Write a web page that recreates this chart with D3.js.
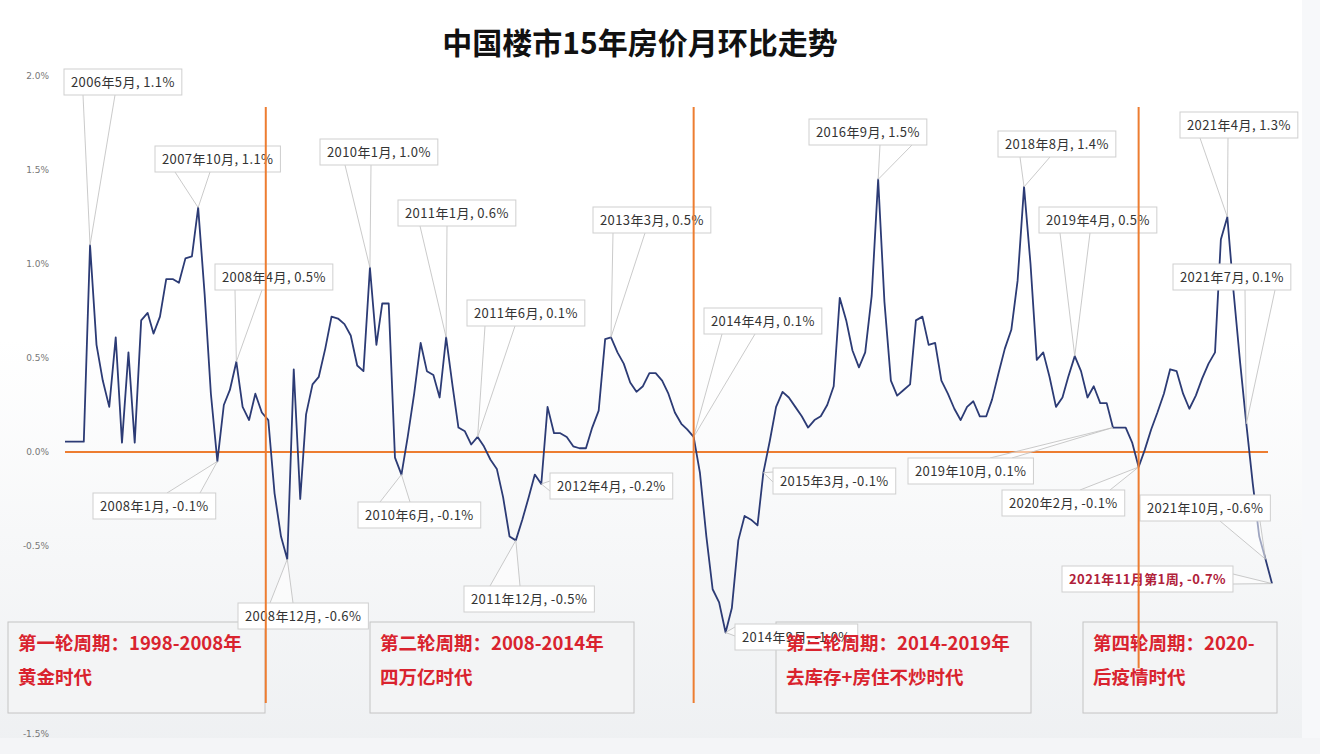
<!DOCTYPE html>
<html>
<head>
<meta charset="utf-8">
<script src="https://cdn.jsdelivr.net/npm/d3@7/dist/d3.min.js"></script>
<style>
  body { margin: 0; background: #ffffff; }
  svg { display: block; font-family: "Noto Sans CJK SC", "Noto Sans", sans-serif; }
</style>
</head>
<body>
<div id="chart"></div>
<script>
// ---------------------------------------------------------------------------
// DATA (month-on-month change, %)
// ---------------------------------------------------------------------------
const startMonth = "2006-01";
const momValues = [
  0.055, 0.055, 0.055, 0.055, 1.10, 0.57, 0.38, 0.24, 0.61, 0.05, 0.53, 0.05,   // 2006
  0.70, 0.74, 0.63, 0.72, 0.92, 0.92, 0.90, 1.03, 1.04, 1.30, 0.84, 0.31,       // 2007
  -0.05, 0.25, 0.33, 0.48, 0.24, 0.17, 0.31, 0.21, 0.17, -0.22, -0.45, -0.57,   // 2008
  0.44, -0.25, 0.20, 0.36, 0.40, 0.55, 0.72, 0.71, 0.68, 0.62, 0.46, 0.43,      // 2009
  0.98, 0.57, 0.79, 0.79, -0.03, -0.12, 0.08, 0.31, 0.58, 0.43, 0.41, 0.29,     // 2010
  0.61, 0.35, 0.13, 0.11, 0.04, 0.08, 0.03, -0.04, -0.09, -0.24, -0.45, -0.47,  // 2011
  -0.36, -0.24, -0.12, -0.17, 0.24, 0.10, 0.10, 0.08, 0.03, 0.02, 0.02, 0.13,   // 2012
  0.22, 0.60, 0.61, 0.53, 0.47, 0.37, 0.32, 0.35, 0.42, 0.42, 0.38, 0.31,       // 2013
  0.21, 0.15, 0.12, 0.08, -0.11, -0.45, -0.73, -0.80, -0.96, -0.83, -0.47, -0.34, // 2014
  -0.36, -0.39, -0.11, 0.06, 0.24, 0.32, 0.29, 0.24, 0.19, 0.13, 0.17, 0.19,    // 2015
  0.25, 0.35, 0.82, 0.70, 0.54, 0.45, 0.53, 0.83, 1.45, 0.80, 0.38, 0.30,       // 2016
  0.33, 0.36, 0.70, 0.72, 0.57, 0.58, 0.38, 0.31, 0.23, 0.17, 0.24, 0.27,       // 2017
  0.19, 0.19, 0.28, 0.42, 0.55, 0.65, 0.91, 1.41, 1.00, 0.49, 0.53, 0.40,       // 2018
  0.24, 0.29, 0.40, 0.51, 0.43, 0.29, 0.35, 0.26, 0.26, 0.13, 0.13, 0.13,       // 2019
  0.05, -0.08, 0.01, 0.12, 0.21, 0.31, 0.44, 0.43, 0.31, 0.23, 0.30, 0.39,      // 2020
  0.47, 0.53, 1.13, 1.25, 0.85, 0.48, 0.15, -0.17, -0.45, -0.57, -0.70          // 2021
];

// the -1.0% label sits under the first cycle box in the picture
const yTicks = [2.0, 1.5, 1.0, 0.5, 0.0, -0.5, -1.5];

// cycle boundaries (dates where the orange dividers stand)
const cycleBreaks = ["2008-08-20", "2014-04-01", "2020-02-01"];
const cycleTitles = ["第一轮周期：1998-2008年", "第二轮周期：2008-2014年", "第三轮周期：2014-2019年", "第四轮周期：2020-"];
const cycleEras = ["黄金时代", "四万亿时代", "去库存+房住不炒时代", "后疫情时代"];

// annotated months and their labels
const calloutMonths = ["2006-05", "2007-10", "2008-04", "2008-01", "2008-12", "2010-01", "2010-06", "2011-01",
  "2011-06", "2011-12", "2012-04", "2013-03", "2014-04", "2014-09", "2015-03", "2016-09",
  "2018-08", "2019-04", "2019-10", "2020-02", "2021-04", "2021-07", "2021-10", "2021-11"];
const calloutTexts = ["2006年5月, 1.1%", "2007年10月, 1.1%", "2008年4月, 0.5%", "2008年1月, -0.1%",
  "2008年12月, -0.6%", "2010年1月, 1.0%", "2010年6月, -0.1%", "2011年1月, 0.6%",
  "2011年6月, 0.1%", "2011年12月, -0.5%", "2012年4月, -0.2%", "2013年3月, 0.5%",
  "2014年4月, 0.1%", "2014年9月, -1.0%", "2015年3月, -0.1%", "2016年9月, 1.5%",
  "2018年8月, 1.4%", "2019年4月, 0.5%", "2019年10月, 0.1%", "2020年2月, -0.1%",
  "2021年4月, 1.3%", "2021年7月, 0.1%", "2021年10月, -0.6%", "2021年11月第1周, -0.7%"];

// ---------------------------------------------------------------------------
// LAYOUT (label placement only)
// ---------------------------------------------------------------------------
const W = 1320, H = 754;
// [box left, box top, wedge side, wedge offset a, wedge offset b]
const calloutLayout = [
  [64, 69, "bottom", 19, 51], [155, 146, "bottom", 20, 55], [215, 264, "bottom", 20, 47],
  [93, 493, "top", 74, 107], [238, 603, "top", 32, 55], [320, 139, "bottom", 25, 51],
  [358, 502, "top", 22, 52], [398, 200, "bottom", 22, 49], [467, 300, "bottom", 18, 48],
  [464, 586, "top", 26, 56], [550, 473, "left", 8, 18], [593, 207, "bottom", 20, 52],
  [704, 308, "bottom", 18, 51], [735, 624, "left", 3, 12], [773, 468, "left", 4, 14],
  [809, 119, "bottom", 71, 103], [998, 131, "bottom", 22, 52], [1039, 207, "bottom", 21, 51],
  [908, 458, "top", 82, 104], [1002, 490, "top", 78, 108], [1180, 112, "bottom", 20, 48],
  [1173, 264, "bottom", 72, 102], [1140, 495, "bottom", 80, 120], [1062, 566, "right", 8, 18]
];
const cycleBoxes = [[8, 265], [370, 634], [776, 1031], [1083, 1277]];
const dividerTop = 1.835;
const dividerBottoms = [-1.335, -1.335, -1.15];

const orange = "#ED7D31";
const navy = "#2C3B75";
const red = "#D9232E";

// ---------------------------------------------------------------------------
// SCALES
// ---------------------------------------------------------------------------
const parseMonth = d3.timeParse("%Y-%m");
const parseDay = d3.timeParse("%Y-%m-%d");
const start = parseMonth(startMonth);
const series = momValues.map((v, i) => ({ date: d3.timeMonth.offset(start, i), value: v }));
const byMonth = new Map(series.map(d => [d3.timeFormat("%Y-%m")(d.date), d]));

const x = d3.scaleTime().domain(d3.extent(series, d => d.date)).range([65, 1272]);
const y = d3.scaleLinear().domain([-1.5, 2.0]).range([734, 76]);

const svg = d3.select("#chart").append("svg")
  .attr("width", W).attr("height", H);

const defs = svg.append("defs");
const grad = defs.append("linearGradient").attr("id", "bg")
  .attr("x1", 0).attr("y1", 0).attr("x2", 0).attr("y2", 1);
grad.append("stop").attr("offset", "0.45").attr("stop-color", "#ffffff");
grad.append("stop").attr("offset", "1").attr("stop-color", "#eef0f2");

svg.append("rect").attr("width", W).attr("height", H).attr("fill", "url(#bg)");
svg.append("rect").attr("x", 0).attr("y", 738).attr("width", W).attr("height", 16).attr("fill", "#f4f5f7");
svg.append("rect").attr("x", 1302).attr("y", 0).attr("width", 18).attr("height", 738).attr("fill", "#f7f8fa");

// title
svg.append("text")
  .attr("x", 640).attr("y", 54)
  .attr("text-anchor", "middle")
  .style("font-size", "30px").style("font-weight", "bold").style("fill", "#111")
  .text("中国楼市15年房价月环比走势");

// y axis labels
const yAxis = d3.axisLeft(y).tickValues(yTicks).tickSize(0).tickPadding(0)
  .tickFormat(d => d.toFixed(1) + "%");
const yg = svg.append("g").attr("transform", "translate(49,0)").call(yAxis);
yg.select(".domain").remove();
yg.selectAll("text").style("font-size", "9px").style("fill", "#777")
  .style("font-family", "'DejaVu Sans', sans-serif");

// zero line
svg.append("line")
  .attr("x1", x.range()[0]).attr("x2", 1268)
  .attr("y1", y(0)).attr("y2", y(0))
  .attr("stroke", orange).attr("stroke-width", 2);

// cycle boxes (frames)
svg.append("g").selectAll("rect")
  .data(cycleBoxes).join("rect")
  .attr("x", d => d[0]).attr("y", 622)
  .attr("width", d => d[1] - d[0]).attr("height", 91)
  .attr("fill", "#f3f4f5").attr("stroke", "#c4c4c4").attr("stroke-width", 1);

// data line
const line = d3.line().x(d => x(d.date)).y(d => y(d.value));
svg.append("path")
  .datum(series)
  .attr("d", line)
  .attr("fill", "none")
  .attr("stroke", navy)
  .attr("stroke-width", 1.8)
  .attr("stroke-linejoin", "round");

// callouts
const cg = svg.append("g");
calloutMonths.forEach((m, i) => {
  const pt = byMonth.get(m);
  const px = x(pt.date), py = y(pt.value);
  const [bx, by, side, a, b] = calloutLayout[i];
  const isLast = i === calloutMonths.length - 1;

  const g = cg.append("g");
  const t = g.append("text")
    .attr("x", bx + 7).attr("y", by + 17.5)
    .style("font-size", "13px")
    .style("letter-spacing", "0.4px")
    .style("fill", isLast ? "#B0213A" : "#333")
    .style("font-weight", isLast ? "bold" : "normal")
    .text(calloutTexts[i]);
  const tw = t.node().getComputedTextLength();
  const bw = tw + 14, bh = 26;

  let p1, p2;
  if (side === "bottom") { p1 = [bx + a, by + bh]; p2 = [bx + b, by + bh]; }
  else if (side === "top") { p1 = [bx + a, by]; p2 = [bx + b, by]; }
  else if (side === "left") { p1 = [bx, by + a]; p2 = [bx, by + b]; }
  else { p1 = [bx + bw, by + a]; p2 = [bx + bw, by + b]; }

  g.insert("path", "text")
    .attr("d", `M${p1[0]},${p1[1]}L${px},${py}L${p2[0]},${p2[1]}`)
    .attr("fill", "rgba(255,255,255,0.55)")
    .attr("stroke", "#bdbdbd").attr("stroke-width", 0.8);
  g.insert("rect", "text")
    .attr("x", bx).attr("y", by).attr("width", bw).attr("height", bh)
    .attr("fill", "#ffffff").attr("stroke", "#cfcfcf").attr("stroke-width", 1);
});

// cycle texts
const tg = svg.append("g");
cycleBoxes.forEach((bxs, i) => {
  tg.append("text")
    .attr("x", bxs[0] + 10).attr("y", 650)
    .style("font-size", "18.5px").style("font-weight", "bold").style("fill", red)
    .text(cycleTitles[i]);
  tg.append("text")
    .attr("x", bxs[0] + 10).attr("y", 684)
    .style("font-size", "18.5px").style("font-weight", "bold").style("fill", red)
    .text(cycleEras[i]);
});

// cycle dividers
svg.append("g").selectAll("line")
  .data(cycleBreaks).join("line")
  .attr("x1", d => x(parseDay(d))).attr("x2", d => x(parseDay(d)))
  .attr("y1", y(dividerTop))
  .attr("y2", (d, i) => y(dividerBottoms[i]))
  .attr("stroke", orange).attr("stroke-width", 2);
</script>
</body>
</html>
